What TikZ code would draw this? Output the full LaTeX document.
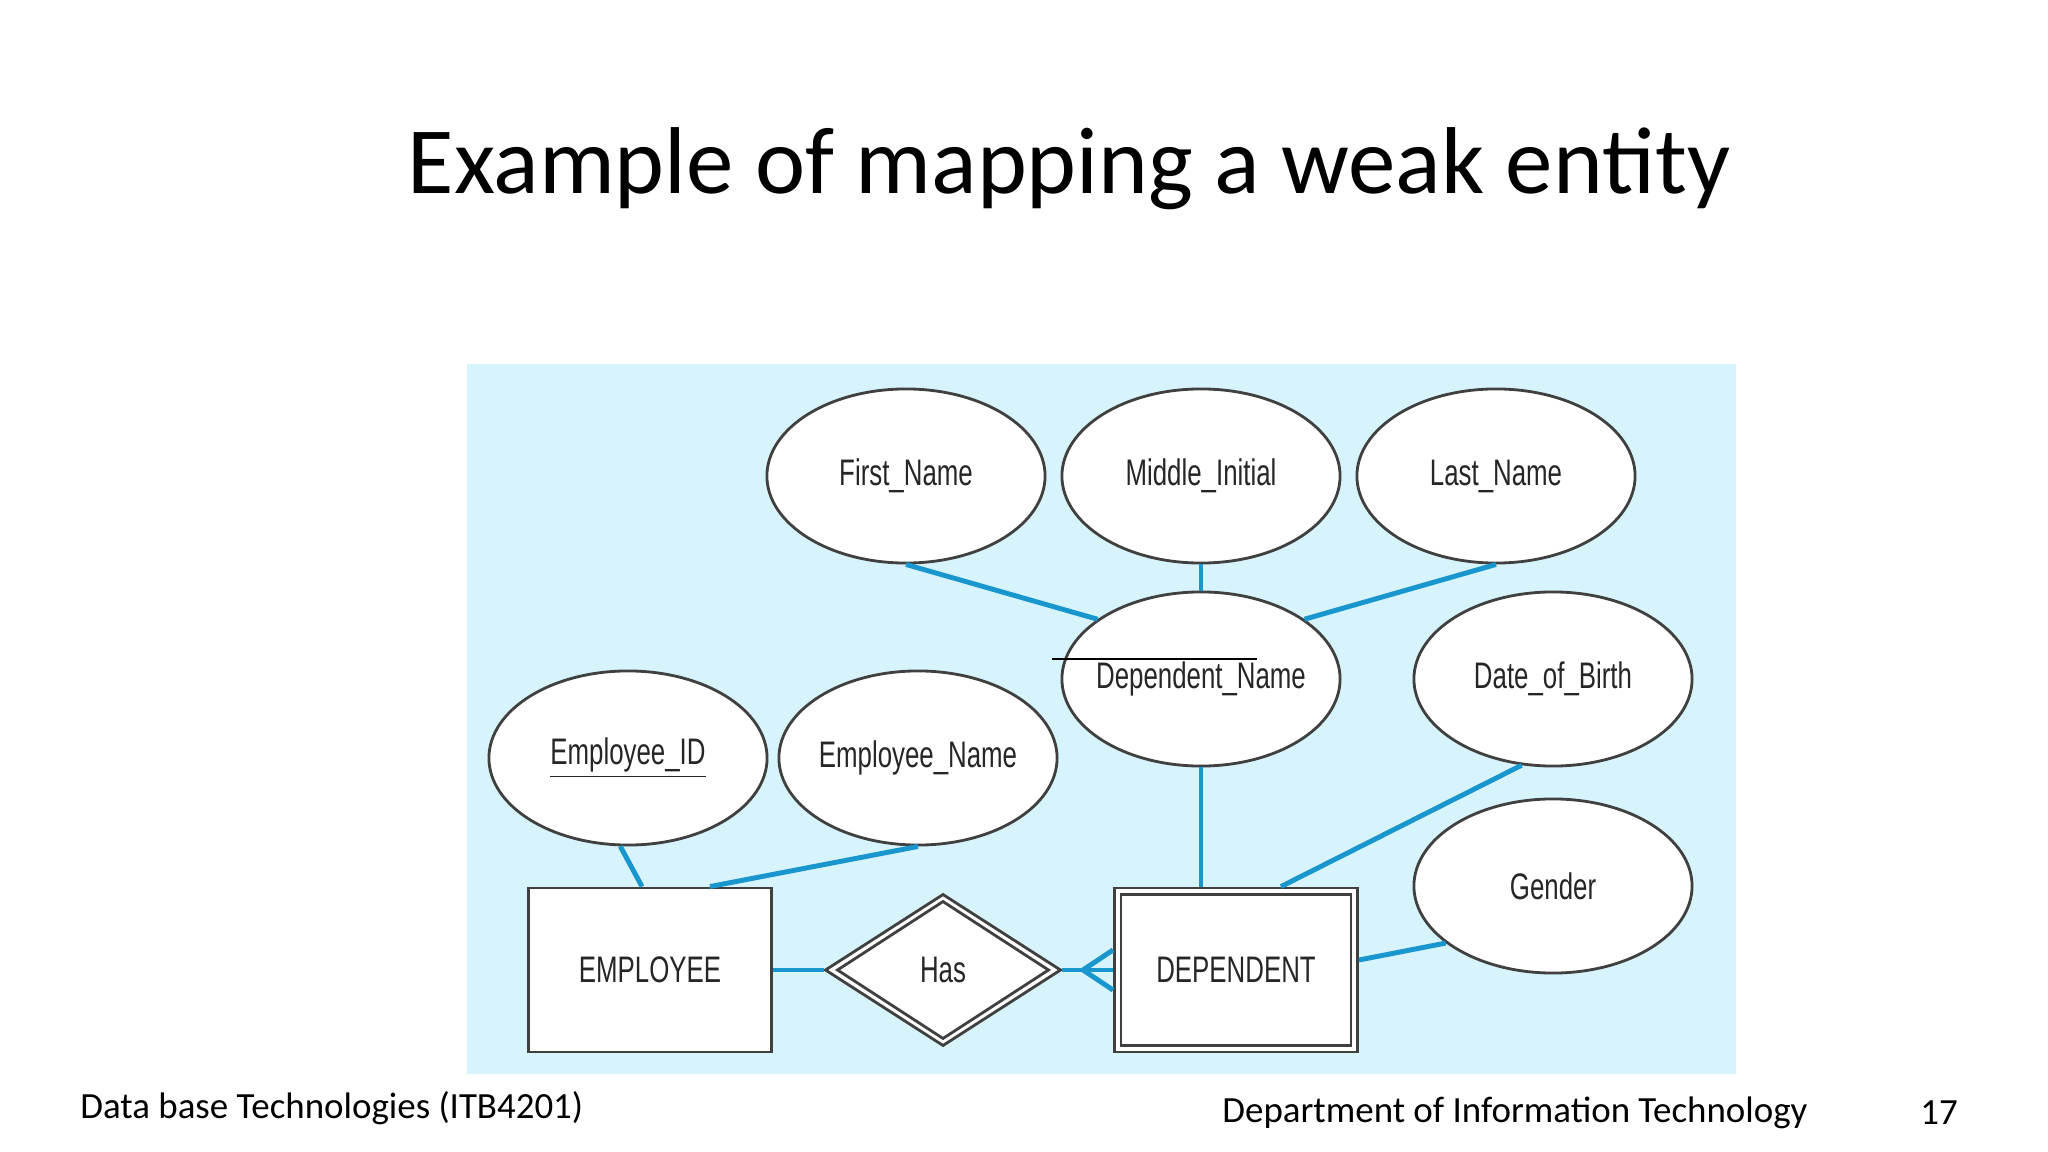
\documentclass[tikz,border=0pt]{standalone}
\usepackage{fontspec}
\setmainfont{Carlito}
\newfontfamily\erfont{Liberation Sans}
\usetikzlibrary{shapes.geometric}
\definecolor{bg}{RGB}{215,243,252}
\definecolor{lnc}{RGB}{25,150,205}
\begin{document}
\begin{tikzpicture}[x=0.01cm,y=-0.01cm,
  attr/.style={ellipse,draw=black!75,line width=0.8pt,fill=white,minimum width=2.78cm,minimum height=1.74cm,inner sep=0pt},
  lbl/.style={font=\erfont\fontsize{10.5}{12}\selectfont,xscale=0.7,text=black!85},
  ent/.style={draw=black!75,line width=0.8pt,fill=white,minimum width=2.43cm,minimum height=1.64cm,inner sep=0pt},
  conn/.style={draw=lnc,line width=1.4pt}]
\useasboundingbox (0,0) rectangle (2048,1152);
\fill[bg] (467,364) rectangle (1736,1074);
\node[font=\fontsize{27}{32}\selectfont] (title) at (1069,169) {Example of mapping a weak entity};
\node[anchor=west,font=\fontsize{10.5}{13}\selectfont] (fl) at (68,1108) {Data base Technologies (ITB4201)};
\node[anchor=west,font=\fontsize{10.5}{13}\selectfont] (fr) at (1210,1113) {Department of Information Technology};
\node[anchor=west,font=\fontsize{10.5}{13}\selectfont] (pg) at (1908,1113) {17};
% connectors first (under shapes)
\node[attr] (fn) at (906,476) {};
\node[attr] (mi) at (1201,476) {};
\node[attr] (ln) at (1496,476) {};
\node[attr] (dn) at (1201,679) {};
\node[attr] (db) at (1553,679) {};
\node[attr] (eid) at (628,758) {};
\node[attr] (en) at (918,758) {};
\node[attr] (ge) at (1553,886) {};
\node[ent] (emp) at (650,970) {};
\node[ent] (dep) at (1236,970) {};
\draw[black!75,line width=0.8pt] ([shift={(8,8)}]dep.north west) rectangle ([shift={(-8,-8)}]dep.south east);
\node[diamond,draw=black!75,line width=0.8pt,fill=white,minimum width=2.36cm,minimum height=1.52cm,inner sep=0pt] (has) at (943,970) {};
\draw[black!75,line width=0.8pt] ([shift={(14,0)}]has.west) -- ([shift={(0,9)}]has.north) -- ([shift={(-14,0)}]has.east) -- ([shift={(0,-9)}]has.south) -- cycle;
\draw[conn] (fn.south) -- (dn.150);
\draw[conn] (mi.south) -- (dn.north);
\draw[conn] (ln.south) -- (dn.30);
\draw[conn] (dn.south) -- (dn.south |- dep.north);
\draw[conn] (db.250) -- ([shift={(45,0)}]dep.north);
\draw[conn] (ge.208) -- ([shift={(0,-10)}]dep.east);
\draw[conn] (eid.265) -- ([shift={(-8,0)}]emp.north);
\draw[conn] (en.south) -- ([shift={(60,0)}]emp.north);
\draw[conn] (emp.east) -- (has.west);
\draw[conn] (has.east) -- (dep.west);
\coordinate (cf) at ([shift={(-30,0)}]dep.west);
\draw[conn] (cf) -- ([shift={(0,-20)}]dep.west);
\draw[conn] (cf) -- ([shift={(0,20)}]dep.west);
% labels
\node[lbl] at (fn) {First\_Name};
\node[lbl] at (mi) {Middle\_Initial};
\node[lbl] at (ln) {Last\_Name};
\node[lbl] at (dn) {Dependent\_Name};
\draw[black,line width=0.5pt] (1052,659) -- (1257,659);
\node[lbl] at (db) {Date\_of\_Birth};
\node[lbl] at (eid) {\underline{Employee\_ID}};
\node[lbl] at (en) {Employee\_Name};
\node[lbl] at (ge) {Gender};
\node[lbl] at (emp) {EMPLOYEE};
\node[lbl] at (dep) {DEPENDENT};
\node[lbl] at (has) {Has};
\end{tikzpicture}
\end{document}
